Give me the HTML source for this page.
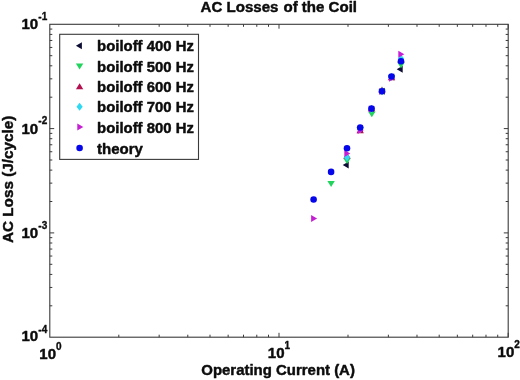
<!DOCTYPE html>
<html><head><meta charset="utf-8"><title>AC Losses of the Coil</title>
<style>
html,body{margin:0;padding:0;background:#fff;}
body{width:520px;height:380px;overflow:hidden;}
svg{display:block;filter:blur(0.35px);}
text{font-family:"Liberation Sans",Arial,Helvetica,sans-serif;font-weight:bold;fill:#0c0c0c;stroke:#0c0c0c;stroke-width:0.45px;stroke-linejoin:round;}
.t{font-size:15px;}
.s{font-size:10px;stroke-width:0.35px;}
</style></head><body>
<svg width="520" height="380" viewBox="0 0 520 380">
<rect x="0" y="0" width="520" height="380" fill="#ffffff"/>
<path d="M118.80 337.20v-2.5M118.80 24.30v2.5M159.16 337.20v-2.5M159.16 24.30v2.5M187.79 337.20v-2.5M187.79 24.30v2.5M210.00 337.20v-2.5M210.00 24.30v2.5M228.15 337.20v-2.5M228.15 24.30v2.5M243.50 337.20v-2.5M243.50 24.30v2.5M256.79 337.20v-2.5M256.79 24.30v2.5M268.51 337.20v-2.5M268.51 24.30v2.5M279.00 337.20v-4.4M279.00 24.30v4.4M348.00 337.20v-2.5M348.00 24.30v2.5M388.36 337.20v-2.5M388.36 24.30v2.5M416.99 337.20v-2.5M416.99 24.30v2.5M439.20 337.20v-2.5M439.20 24.30v2.5M457.35 337.20v-2.5M457.35 24.30v2.5M472.70 337.20v-2.5M472.70 24.30v2.5M485.99 337.20v-2.5M485.99 24.30v2.5M497.71 337.20v-2.5M497.71 24.30v2.5M508.20 337.20v-4.4M508.20 24.30v4.4M577.20 337.20v-2.5M577.20 24.30v2.5M617.56 337.20v-2.5M617.56 24.30v2.5M646.19 337.20v-2.5M646.19 24.30v2.5M668.40 337.20v-2.5M668.40 24.30v2.5M686.55 337.20v-2.5M686.55 24.30v2.5M701.90 337.20v-2.5M701.90 24.30v2.5M715.19 337.20v-2.5M715.19 24.30v2.5M726.91 337.20v-2.5M726.91 24.30v2.5M49.80 305.80h2.5M508.20 305.80h-2.5M49.80 287.44h2.5M508.20 287.44h-2.5M49.80 274.41h2.5M508.20 274.41h-2.5M49.80 264.30h2.5M508.20 264.30h-2.5M49.80 256.04h2.5M508.20 256.04h-2.5M49.80 249.06h2.5M508.20 249.06h-2.5M49.80 243.01h2.5M508.20 243.01h-2.5M49.80 237.67h2.5M508.20 237.67h-2.5M49.80 232.90h4.4M508.20 232.90h-4.4M49.80 201.50h2.5M508.20 201.50h-2.5M49.80 183.14h2.5M508.20 183.14h-2.5M49.80 170.11h2.5M508.20 170.11h-2.5M49.80 160.00h2.5M508.20 160.00h-2.5M49.80 151.74h2.5M508.20 151.74h-2.5M49.80 144.76h2.5M508.20 144.76h-2.5M49.80 138.71h2.5M508.20 138.71h-2.5M49.80 133.37h2.5M508.20 133.37h-2.5M49.80 128.60h4.4M508.20 128.60h-4.4M49.80 97.20h2.5M508.20 97.20h-2.5M49.80 78.84h2.5M508.20 78.84h-2.5M49.80 65.81h2.5M508.20 65.81h-2.5M49.80 55.70h2.5M508.20 55.70h-2.5M49.80 47.44h2.5M508.20 47.44h-2.5M49.80 40.46h2.5M508.20 40.46h-2.5M49.80 34.41h2.5M508.20 34.41h-2.5M49.80 29.07h2.5M508.20 29.07h-2.5" stroke="#3a3a3a" stroke-width="1" fill="none"/>
<rect x="49.8" y="24.3" width="458.40" height="312.90" fill="none" stroke="#3a3a3a" stroke-width="1.1"/>
<text class="t" x="200.6" y="11.5" style="font-size:15.05px">AC Losses<tspan dx="0.9"> of the Coil</tspan></text>
<text class="t" x="201.3" y="374.9" textLength="153.6" lengthAdjust="spacingAndGlyphs">Operating Current (A)</text>
<text class="t" transform="translate(13.4 243.1) rotate(-90)" textLength="127.4" lengthAdjust="spacingAndGlyphs">AC Loss (J/cycle)</text>
<text class="t" x="21.4" y="29.0">10</text><text class="s" x="38.3" y="19.9">-1</text>
<text class="t" x="21.4" y="133.5">10</text><text class="s" x="38.3" y="124.2">-2</text>
<text class="t" x="21.4" y="238.2">10</text><text class="s" x="38.3" y="228.5">-3</text>
<text class="t" x="21.4" y="341.3">10</text><text class="s" x="38.3" y="332.8">-4</text>
<text class="t" x="39.3" y="358.8">10</text><text class="s" x="55.9" y="349.8">0</text>
<text class="t" x="267.8" y="357.7">10</text><text class="s" x="284.4" y="348.7">1</text>
<text class="t" x="497.6" y="357.3">10</text><text class="s" x="514.2" y="348.3">2</text>
<path d="M342.7 165.0L348.7 161.5L348.7 168.5Z" fill="#0b0b34"/>
<path d="M356.9 129.0L362.9 125.5L362.9 132.5Z" fill="#0b0b34"/>
<path d="M368.2 109.5L374.2 106.0L374.2 113.0Z" fill="#0b0b34"/>
<path d="M378.7 91.3L384.7 87.8L384.7 94.8Z" fill="#0b0b34"/>
<path d="M388.2 77.0L394.2 73.5L394.2 80.5Z" fill="#0b0b34"/>
<path d="M396.7 69.3L402.7 65.8L402.7 72.8Z" fill="#0b0b34"/>
<path d="M331.1 186.9L327.4 181.0L334.8 181.0Z" fill="#22d35e"/>
<path d="M347.0 164.1L343.3 158.2L350.7 158.2Z" fill="#22d35e"/>
<path d="M360.2 132.8L356.5 126.9L363.9 126.9Z" fill="#22d35e"/>
<path d="M371.8 117.3L368.1 111.4L375.5 111.4Z" fill="#22d35e"/>
<path d="M382.0 95.3L378.3 89.4L385.7 89.4Z" fill="#22d35e"/>
<path d="M391.5 80.8L387.8 74.9L395.2 74.9Z" fill="#22d35e"/>
<path d="M401.0 68.3L397.3 62.4L404.7 62.4Z" fill="#22d35e"/>
<path d="M347.0 152.7L343.3 158.6L350.7 158.6Z" fill="#b40f4e"/>
<path d="M360.2 127.3L356.5 133.2L363.9 133.2Z" fill="#b40f4e"/>
<path d="M371.5 105.3L367.8 111.2L375.2 111.2Z" fill="#b40f4e"/>
<path d="M382.0 86.5L378.3 92.4L385.7 92.4Z" fill="#b40f4e"/>
<path d="M391.5 74.3L387.8 80.2L395.2 80.2Z" fill="#b40f4e"/>
<path d="M401.0 56.7L397.3 62.6L404.7 62.6Z" fill="#b40f4e"/>
<path d="M347.0 153.2L350.1 157.2L347.0 161.2L343.9 157.2Z" fill="#2fd9f2"/>
<path d="M360.2 125.0L363.3 129.0L360.2 133.0L357.1 129.0Z" fill="#2fd9f2"/>
<path d="M371.5 105.0L374.6 109.0L371.5 113.0L368.4 109.0Z" fill="#2fd9f2"/>
<path d="M382.0 87.0L385.1 91.0L382.0 95.0L378.9 91.0Z" fill="#2fd9f2"/>
<path d="M391.5 73.0L394.6 77.0L391.5 81.0L388.4 77.0Z" fill="#2fd9f2"/>
<path d="M401.0 54.5L404.1 58.5L401.0 62.5L397.9 58.5Z" fill="#2fd9f2"/>
<path d="M317.1 218.4L311.1 214.9L311.1 221.9Z" fill="#c41fd2"/>
<path d="M350.3 153.5L344.3 150.0L344.3 157.0Z" fill="#c41fd2"/>
<path d="M363.7 130.5L357.7 127.0L357.7 134.0Z" fill="#c41fd2"/>
<path d="M374.8 109.0L368.8 105.5L368.8 112.5Z" fill="#c41fd2"/>
<path d="M385.3 91.5L379.3 88.0L379.3 95.0Z" fill="#c41fd2"/>
<path d="M395.0 78.2L389.0 74.7L389.0 81.7Z" fill="#c41fd2"/>
<path d="M404.3 54.2L398.3 50.7L398.3 57.7Z" fill="#c41fd2"/>
<circle cx="313.6" cy="199.5" r="3.3" fill="#0606ea"/>
<circle cx="331.1" cy="171.9" r="3.3" fill="#0606ea"/>
<circle cx="347.0" cy="148.3" r="3.3" fill="#0606ea"/>
<circle cx="360.2" cy="127.5" r="3.3" fill="#0606ea"/>
<circle cx="371.5" cy="108.6" r="3.3" fill="#0606ea"/>
<circle cx="382.0" cy="91.3" r="3.3" fill="#0606ea"/>
<circle cx="391.5" cy="76.5" r="3.3" fill="#0606ea"/>
<circle cx="401.0" cy="61.3" r="3.3" fill="#0606ea"/>
<rect x="59.7" y="34.3" width="138.8" height="125.1" fill="#fff" stroke="#3a3a3a" stroke-width="1.1"/>
<text class="t" x="97.1" y="51.3" textLength="96.8" lengthAdjust="spacingAndGlyphs">boiloff 400 Hz</text>
<text class="t" x="97.1" y="71.8" textLength="96.8" lengthAdjust="spacingAndGlyphs">boiloff 500 Hz</text>
<text class="t" x="97.1" y="92.2" textLength="96.8" lengthAdjust="spacingAndGlyphs">boiloff 600 Hz</text>
<text class="t" x="97.1" y="112.4" textLength="96.8" lengthAdjust="spacingAndGlyphs">boiloff 700 Hz</text>
<text class="t" x="97.1" y="132.8" textLength="96.8" lengthAdjust="spacingAndGlyphs">boiloff 800 Hz</text>
<text class="t" x="97.1" y="153.6">theory</text>
<path d="M75.9 45.8L81.9 42.3L81.9 49.3Z" fill="#0b0b34"/>
<path d="M79.6 69.5L75.9 63.6L83.3 63.6Z" fill="#22d35e"/>
<path d="M79.6 83.3L75.9 89.2L83.3 89.2Z" fill="#b40f4e"/>
<path d="M79.6 102.7L82.7 106.7L79.6 110.7L76.5 106.7Z" fill="#2fd9f2"/>
<path d="M83.3 127.1L77.3 123.6L77.3 130.6Z" fill="#c41fd2"/>
<circle cx="79.6" cy="148.0" r="3.3" fill="#0606ea"/>
</svg></body></html>
